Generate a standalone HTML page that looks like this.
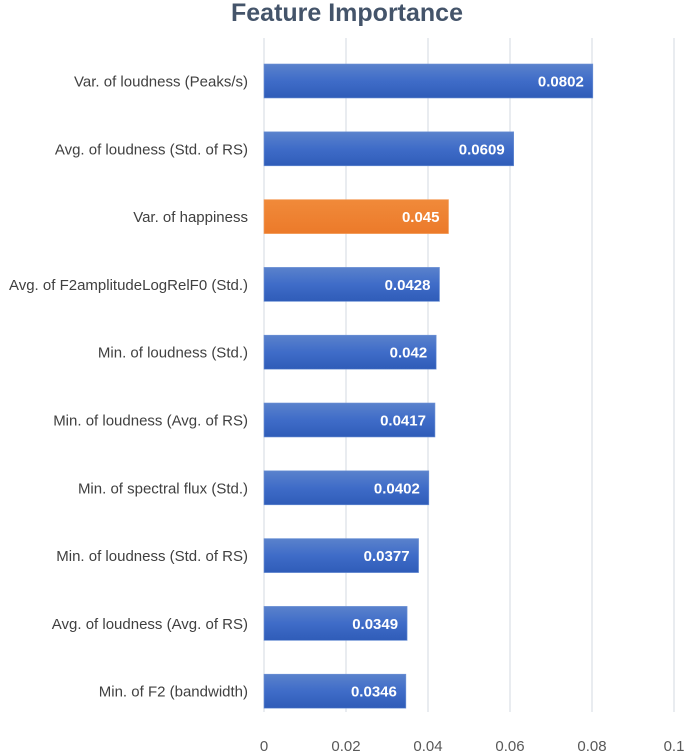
<!DOCTYPE html>
<html><head><meta charset="utf-8"><style>
body{margin:0;background:#fff;}
svg{display:block;font-family:"Liberation Sans",sans-serif;}
</style></head><body>
<svg id="chart" width="685" height="754">
<defs>
<linearGradient id="gb" x1="0" y1="0" x2="0" y2="1"><stop offset="0" stop-color="#5a82cc"/><stop offset="0.5" stop-color="#3f6cc8"/><stop offset="1" stop-color="#2f5cb8"/></linearGradient>
<linearGradient id="go" x1="0" y1="0" x2="0" y2="1"><stop offset="0" stop-color="#f08a3a"/><stop offset="1" stop-color="#ec7a2a"/></linearGradient>
</defs>
<text x="347" y="21" text-anchor="middle" font-size="25" font-weight="bold" fill="#44546a">Feature Importance</text>
<g id="grid"></g><g id="bars"></g><g id="labels"></g>
</svg>
<script>
const categories=["Var. of loudness (Peaks/s)","Avg. of loudness (Std. of RS)","Var. of happiness","Avg. of F2amplitudeLogRelF0 (Std.)","Min. of loudness (Std.)","Min. of loudness (Avg. of RS)","Min. of spectral flux (Std.)","Min. of loudness (Std. of RS)","Avg. of loudness (Avg. of RS)","Min. of F2 (bandwidth)"];
const values=[0.0802,0.0609,0.045,0.0428,0.042,0.0417,0.0402,0.0377,0.0349,0.0346];
const valueLabels=["0.0802","0.0609","0.045","0.0428","0.042","0.0417","0.0402","0.0377","0.0349","0.0346"];
const highlight=[false,false,true,false,false,false,false,false,false,false];
const ticks=[0,0.02,0.04,0.06,0.08,0.1];
const tickLabels=["0","0.02","0.04","0.06","0.08","0.1"];
const NS="http://www.w3.org/2000/svg";
const x=v=>264+v*4100;
const y=i=>81+i*67.8;
function mk(t,a,p){const e=document.createElementNS(NS,t);for(const k in a)e.setAttribute(k,a[k]);p.appendChild(e);return e;}
const G=document.getElementById('grid'),B=document.getElementById('bars'),L=document.getElementById('labels');
ticks.forEach((t,i)=>{
 const l=mk('line',{x1:x(t),x2:x(t),y1:38,y2:712,stroke:'#dde1e8','stroke-width':1.3},G);
 
 
 const tx=mk('text',{x:x(t),y:751,'text-anchor':'middle','font-size':15,fill:'#595959'},L);
 tx.textContent=tickLabels[i];
 
 
});
categories.forEach((c,i)=>{
 const r=mk('rect',{x:x(0),y:y(i)-17,width:x(values[i])-x(0),height:34,fill:highlight[i]?'url(#go)':'url(#gb)',stroke:highlight[i]?'#f4a060':'#6f93d6','stroke-width':0.6},B);
 
 
 const v=mk('text',{x:x(values[i])-9,y:y(i)+5.5,'text-anchor':'end','font-size':15,'font-weight':'bold',fill:'#fff'},L);
 v.textContent=valueLabels[i];
 
 
 const t=mk('text',{x:248,y:y(i)+5.5,'text-anchor':'end','font-size':15,fill:'#404040'},L);
 t.textContent=c;
 
 
});
</script>
</body></html>
